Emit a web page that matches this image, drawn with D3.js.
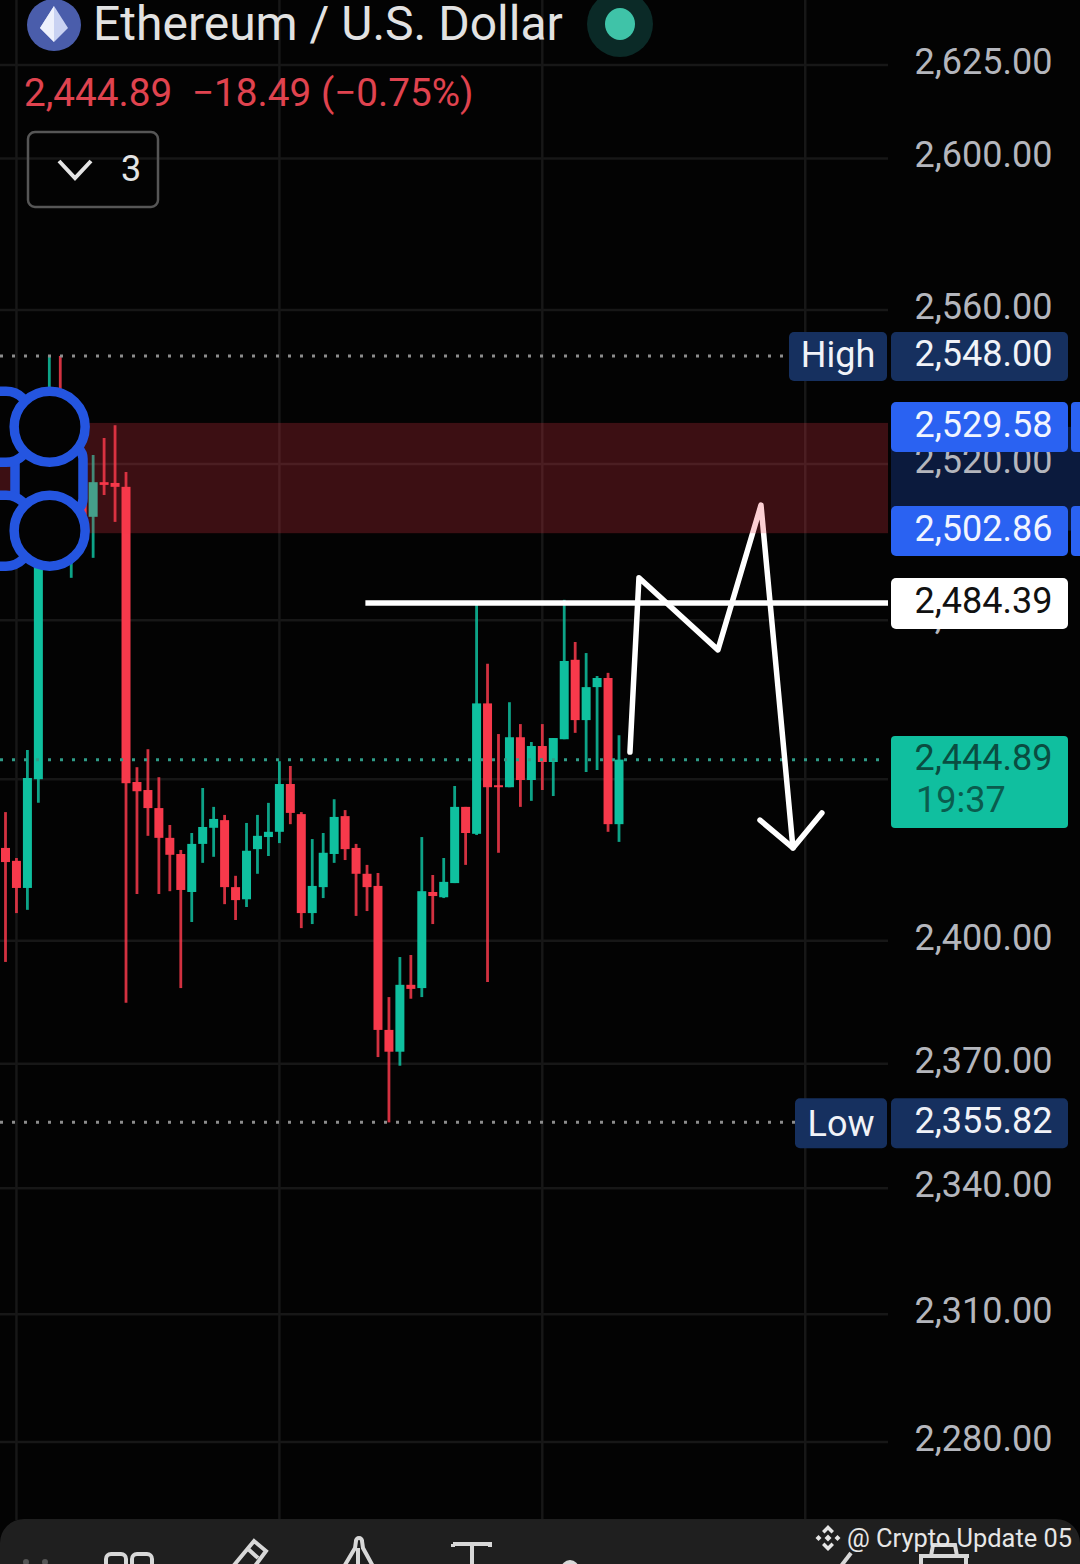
<!DOCTYPE html>
<html lang="en">
<head>
  <meta charset="UTF-8">
  <title>Ethereum / U.S. Dollar</title>
  <style>
    html, body { margin: 0; padding: 0; background: #000; }
    svg { display: block; font-family: Roboto, sans-serif; }
  </style>
</head>
<body>
  <svg id="svg" width="1080" height="1564"></svg>

  <script src="https://d3js.org/d3.v7.min.js"></script>
  <script>
    // candle values (bars 3-7 are mostly hidden by the blue handles)
    const opens = [2422.9,2419.7,2413.0,2440.0,2510.7,2531.3,2503.0,2518.4,2506.4,2515.3,2515.1,2514.1,2439.3,2437.3,2432.8,2425.4,2421.4,2412.0,2423.9,2427.9,2429.8,2413.2,2410.2,2422.6,2425.6,2426.9,2438.8,2431.3,2406.8,2413.2,2421.4,2430.8,2422.9,2416.5,2413.5,2378.2,2372.9,2389.2,2388.4,2412.0,2410.7,2414.2,2433.1,2426.4,2459.0,2438.5,2438.0,2450.5,2439.8,2448.3,2444.3,2450.0,2470.0,2454.8,2463.1,2465.4,2428.8]
    const highs = [2431.8,2420.4,2447.3,2515.9,2548.0,2548.0,2523.6,2521.0,2522.3,2526.7,2530.0,2517.9,2443.0,2447.5,2440.5,2428.6,2422.4,2426.6,2437.8,2433.1,2431.1,2416.0,2429.1,2431.1,2434.1,2444.5,2443.3,2431.8,2425.1,2426.6,2435.0,2432.3,2423.9,2418.7,2416.7,2386.2,2396.0,2396.5,2425.6,2416.2,2420.4,2438.3,2433.1,2484.2,2469.0,2451.3,2459.3,2453.8,2449.3,2453.8,2450.3,2485.2,2474.5,2471.7,2465.9,2466.7,2451.0]
    const lows = [2394.8,2406.8,2407.6,2434.1,2508.1,2510.7,2490.8,2504.3,2495.9,2512.0,2505.1,2384.8,2411.5,2425.9,2411.5,2412.2,2388.4,2404.6,2419.2,2420.7,2409.0,2405.1,2408.3,2416.5,2420.9,2424.1,2428.8,2403.1,2404.1,2410.5,2419.2,2419.9,2406.1,2407.3,2371.6,2355.8,2369.5,2385.8,2386.2,2404.1,2410.5,2414.2,2418.7,2426.1,2389.9,2421.7,2438.0,2433.1,2434.6,2437.3,2435.8,2450.0,2451.6,2441.8,2442.3,2426.9,2424.4]
    const closes = [2419.4,2413.0,2440.3,2510.7,2531.3,2518.4,2518.4,2506.9,2515.3,2514.6,2514.1,2439.0,2437.0,2432.8,2425.4,2421.2,2412.5,2423.9,2428.1,2430.1,2413.2,2410.0,2422.2,2425.9,2426.9,2438.8,2431.6,2406.8,2413.5,2421.7,2430.6,2422.6,2416.5,2413.2,2378.2,2372.9,2389.2,2388.2,2412.2,2411.0,2414.5,2433.1,2426.6,2459.0,2438.0,2438.0,2450.5,2439.8,2448.3,2444.3,2450.3,2469.7,2454.8,2463.1,2465.4,2428.8,2444.89]

    const axisTicks = [2625, 2600, 2560, 2520, 2480, 2440, 2400, 2370, 2340, 2310, 2280]
    const timeGridBars = [1, 25, 49, 73]

    const highPrice = 2548.00
    const lowPrice = 2355.82
    const lastPrice = 2444.89
    const levelPrice = 2484.39
    const zoneLevels = [2529.58, 2502.86]
    const zoneEdges = [2530.6, 2502.2]

    // hand drawn path, [bar, price]
    const pathPoints = [[57.0,2446.8],[57.82,2490.8],[65.03,2472.5],[68.96,2509.4],[71.88,2422.9]]
    const arrowPoints = [[68.87,2429.8],[71.88,2422.9],[74.52,2431.6]]
    const levelBars = [32.85, 80.7]

    const green = '#0fc09f'
    const red = '#f7394b'
    const gridColor = '#171717'
    const blue = '#2455e0'
    const axisText = '#b4b6bd'

    const plotRight = 888

    const xScale = d3.scaleLinear().domain([0, 56]).range([5.5, 619])
    const yScale = d3.scaleLog().domain([2280, 2625]).range([1442, 65])
    const fmt = d3.format(',.2f')

    const svg = d3.select('#svg')
    svg.append('rect').attr('width', 1080).attr('height', 1564).attr('fill', '#030303')

    /* --- grid ----------------------------------------------------------- */
    svg.append('g').selectAll('line').data(axisTicks).enter().append('line')
      .attr('x1', 0).attr('x2', plotRight)
      .attr('y1', d => yScale(d)).attr('y2', d => yScale(d))
      .attr('stroke', gridColor).attr('stroke-width', 2.5)

    svg.append('g').selectAll('line').data(timeGridBars).enter().append('line')
      .attr('x1', d => xScale(d)).attr('x2', d => xScale(d))
      .attr('y1', 0).attr('y2', 1520)
      .attr('stroke', gridColor).attr('stroke-width', 2.5)

    /* --- candles -------------------------------------------------------- */
    const bars = d3.range(opens.length)
    const candles = svg.append('g')

    candles.selectAll('line').data(bars).enter().append('line')
      .attr('x1', i => xScale(i)).attr('x2', i => xScale(i))
      .attr('y1', i => yScale(highs[i])).attr('y2', i => yScale(lows[i]))
      .attr('stroke', i => closes[i] >= opens[i] ? green : red)
      .attr('stroke-opacity', 0.85)
      .attr('stroke-width', 2.8)

    candles.selectAll('rect').data(bars).enter().append('rect')
      .attr('x', i => xScale(i) - 4.5)
      .attr('width', 9)
      .attr('y', i => yScale(Math.max(opens[i], closes[i])))
      .attr('height', i => Math.max(2, yScale(Math.min(opens[i], closes[i])) - yScale(Math.max(opens[i], closes[i]))))
      .attr('fill', i => closes[i] >= opens[i] ? green : red)

    /* --- dotted price lines ---------------------------------------------- */
    const dotted = [
      { price: highPrice, end: 785, color: '#8d8d8d' },
      { price: lowPrice, end: 795, color: '#8d8d8d' },
      { price: lastPrice, end: 885, color: '#2f9c88' }
    ]
    svg.append('g').selectAll('line').data(dotted).enter().append('line')
      .attr('x1', 0).attr('x2', d => d.end)
      .attr('y1', d => yScale(d.price)).attr('y2', d => yScale(d.price))
      .attr('stroke', d => d.color).attr('stroke-width', 3)
      .attr('stroke-dasharray', '3 9')

    /* --- drawing: level, zig zag and arrow ------------------------------- */
    const line = d3.line().x(d => xScale(d[0])).y(d => yScale(d[1]))
    const drawing = svg.append('g').attr('fill', 'none').attr('stroke', '#fff')
      .attr('stroke-width', 5.5).attr('stroke-linecap', 'round').attr('stroke-linejoin', 'round')
    drawing.append('path').attr('d', line(pathPoints))
    drawing.append('path').attr('d', line(arrowPoints))

    svg.append('line')
      .attr('x1', xScale(levelBars[0])).attr('x2', xScale(levelBars[1]))
      .attr('y1', yScale(levelPrice)).attr('y2', yScale(levelPrice))
      .attr('stroke', '#fff').attr('stroke-width', 5.5)

    /* --- red zone sits over the candles ---------------------------------- */
    svg.append('rect')
      .attr('x', 0).attr('width', plotRight)
      .attr('y', yScale(zoneEdges[0]))
      .attr('height', yScale(zoneEdges[1]) - yScale(zoneEdges[0]))
      .attr('fill', '#f23645').attr('fill-opacity', 0.24)

    /* --- selected drawing handles ---------------------------------------- */
    const handleX = xScale(4.03)
    const handles = svg.append('g').attr('stroke', blue).attr('stroke-width', 9.5).attr('fill', '#030303')
    const hy0 = yScale(zoneLevels[0])
    const hy1 = yScale(zoneLevels[1])
    handles.append('rect').attr('x', 15).attr('y', hy0 + 18).attr('width', 68)
      .attr('height', hy1 - hy0 - 36).attr('rx', 14)
    handles.append('rect').attr('x', -60).attr('y', hy0 - 35.5).attr('width', 90).attr('height', 71).attr('rx', 24)
    handles.append('rect').attr('x', -60).attr('y', hy1 - 35.5).attr('width', 90).attr('height', 71).attr('rx', 24)
    handles.selectAll('circle').data(zoneLevels).enter().append('circle')
      .attr('cx', handleX).attr('cy', d => yScale(d)).attr('r', 35.5)

    /* --- price axis ------------------------------------------------------ */
    svg.append('rect').attr('x', plotRight).attr('y', 0).attr('width', 192).attr('height', 1518).attr('fill', '#030303')
    svg.append('rect').attr('x', 891).attr('y', yScale(zoneLevels[0]))
      .attr('width', 189).attr('height', yScale(zoneLevels[1]) - yScale(zoneLevels[0]))
      .attr('fill', '#0b1a3d')

    const axis = d3.axisRight(yScale).tickValues(axisTicks).tickFormat(fmt).tickSize(0).tickPadding(0)
    const axisG = svg.append('g').attr('transform', 'translate(1052.5,-4.5)').call(axis)
    axisG.select('.domain').remove()
    axisG.selectAll('text')
      .attr('x', 0).attr('dy', '0.36em')
      .attr('text-anchor', 'end')
      .attr('font-family', 'Roboto, sans-serif')
      .attr('font-size', 36)
      .attr('fill', axisText)

    function priceTag(y0, h, fill, text, color) {
      svg.append('rect').attr('x', 891).attr('y', y0).attr('width', 177).attr('height', h).attr('rx', 5).attr('fill', fill)
      svg.append('text').attr('x', 1052.5).attr('y', y0 + h / 2 - 3).attr('dy', '0.36em')
        .attr('text-anchor', 'end').attr('font-size', 36).attr('fill', color).text(text)
    }
    function sideTag(x0, y0, h, text, dy) {
      svg.append('rect').attr('x', x0).attr('y', y0).attr('width', 887 - x0).attr('height', h).attr('rx', 5).attr('fill', '#16305f')
      svg.append('text').attr('x', (x0 + 887) / 2).attr('y', y0 + h / 2 + dy).attr('dy', '0.36em')
        .attr('text-anchor', 'middle').attr('font-size', 36).attr('fill', '#f1f3f8').text(text)
    }

    sideTag(789, yScale(highPrice) - 24, 49, 'High', -2)
    priceTag(yScale(highPrice) - 24, 49, '#16305f', fmt(highPrice), '#f1f3f8')
    sideTag(795, yScale(lowPrice) - 24, 50, 'Low', 0)
    priceTag(yScale(lowPrice) - 24, 50, '#16305f', fmt(lowPrice), '#f1f3f8')

    priceTag(402, 50, '#2a62f2', fmt(zoneLevels[0]), '#f1f5ff')
    priceTag(506, 50, '#2a62f2', fmt(zoneLevels[1]), '#f1f5ff')
    svg.append('rect').attr('x', 1071).attr('y', 402).attr('width', 20).attr('height', 50).attr('rx', 4).attr('fill', '#2a62f2')
    svg.append('rect').attr('x', 1071).attr('y', 506).attr('width', 20).attr('height', 50).attr('rx', 4).attr('fill', '#2a62f2')

    priceTag(578, 51, '#ffffff', fmt(levelPrice), '#111')

    svg.append('rect').attr('x', 891).attr('y', 736).attr('width', 177).attr('height', 92).attr('rx', 4).attr('fill', '#10bf9f')
    svg.append('text').attr('x', 1052.5).attr('y', 770).attr('text-anchor', 'end')
      .attr('font-size', 36).attr('fill', '#0a4d41').text(fmt(lastPrice))
    svg.append('text').attr('x', 916).attr('y', 812)
      .attr('font-size', 36).attr('fill', '#0a5c4e').text('19:37')

    /* --- header ---------------------------------------------------------- */
    svg.append('ellipse').attr('cx', 54).attr('cy', 25).attr('rx', 27).attr('ry', 26).attr('fill', '#4a5dab')
    svg.append('path').attr('d', 'M54,6 L68,28 L54,42 L40,28 Z').attr('fill', '#c9d2f2')
    svg.append('path').attr('d', 'M54,6 L54,42 L40,28 Z').attr('fill', '#eef1fc')
    svg.append('text').attr('x', 93).attr('y', 40).attr('font-size', 48).attr('fill', '#e2e2e2')
      .text('Ethereum / U.S. Dollar')
    svg.append('ellipse').attr('cx', 620).attr('cy', 24).attr('rx', 33).attr('ry', 33).attr('fill', '#0b2a27')
    svg.append('ellipse').attr('cx', 620).attr('cy', 24).attr('rx', 15).attr('ry', 16).attr('fill', '#3fc3a8')

    svg.append('text').attr('x', 24).attr('y', 106).attr('font-size', 38.7).attr('fill', '#e0434f')
      .text(fmt(lastPrice))
    svg.append('text').attr('x', 192).attr('y', 106).attr('font-size', 38.7).attr('fill', '#e0434f')
      .text('\u221218.49 (\u22120.75%)')

    svg.append('rect').attr('x', 28).attr('y', 132).attr('width', 130).attr('height', 75).attr('rx', 7)
      .attr('fill', 'none').attr('stroke', '#565656').attr('stroke-width', 2.5)
    svg.append('path').attr('d', 'M59,161 L75,178 L91,161').attr('fill', 'none')
      .attr('stroke', '#e4e4e4').attr('stroke-width', 4)
    svg.append('text').attr('x', 131).attr('y', 181).attr('text-anchor', 'middle')
      .attr('font-size', 36).attr('fill', '#e4e4e4').text('3')

    /* --- bottom toolbar (cut off by the screenshot) ----------------------- */
    svg.append('rect').attr('x', 0).attr('y', 1519).attr('width', 1080).attr('height', 100).attr('rx', 24).attr('fill', '#1f1f1f')
    svg.append('g').selectAll('circle').data([26, 45]).enter().append('circle')
      .attr('cx', d => d).attr('cy', 1562).attr('r', 3).attr('fill', '#555')
    const icons = svg.append('g').attr('fill', 'none').attr('stroke', '#d8d8d8').attr('stroke-width', 4)
    icons.append('rect').attr('x', 106).attr('y', 1554).attr('width', 20).attr('height', 30).attr('rx', 5)
    icons.append('rect').attr('x', 132).attr('y', 1554).attr('width', 20).attr('height', 30).attr('rx', 5)
    icons.append('path').attr('d', 'M230,1570 L254,1541 L266,1551 L252,1570 M247,1548 L258,1558')
    icons.append('path').attr('d', 'M342,1570 L355,1548 L356,1541 A3,3 0 0 1 362,1541 L363,1548 L375,1570 M358,1548 L358,1564')
    icons.append('path').attr('d', 'M453,1544 L453,1547 M453,1544 L490,1544 L490,1547 M472,1544 L472,1570')
    icons.append('circle').attr('cx', 570).attr('cy', 1569).attr('r', 7)
    icons.append('path').attr('d', 'M838,1570 L851,1553')
    icons.append('path').attr('d', 'M921,1564 L921,1556 L966,1556 L966,1564 M931,1556 L933,1545 L955,1545 L957,1556 M919,1556 L969,1556')

    svg.append('text').attr('x', 847).attr('y', 1547).attr('font-size', 25.4).attr('fill', '#e6e6e6')
      .text('@ Crypto Update 05')
    const mark = svg.append('g').attr('fill', '#e6e6e6').attr('transform', 'translate(828,1538)')
    mark.append('path').attr('d', 'M0,-13 L6,-7 L3.5,-4.5 L0,-8 L-3.5,-4.5 L-6,-7 Z')
    mark.append('path').attr('d', 'M0,13 L6,7 L3.5,4.5 L0,8 L-3.5,4.5 L-6,7 Z')
    mark.append('path').attr('d', 'M0,-3.5 L3.5,0 L0,3.5 L-3.5,0 Z')
    mark.append('path').attr('d', 'M-9.5,-3 L-6.5,0 L-9.5,3 L-12.5,0 Z')
    mark.append('path').attr('d', 'M9.5,-3 L12.5,0 L9.5,3 L6.5,0 Z')
  </script>
</body>
</html>
